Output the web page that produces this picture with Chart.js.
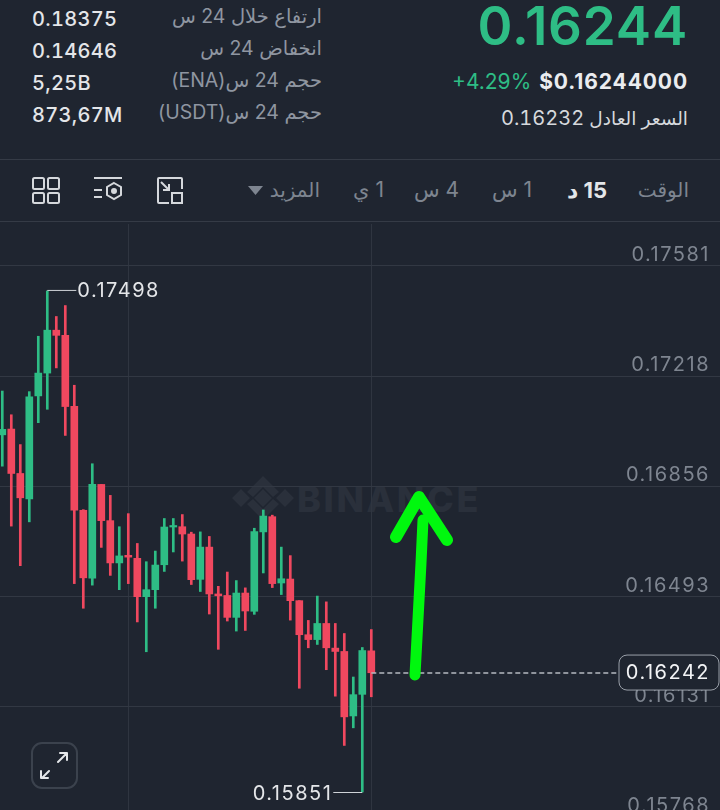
<!DOCTYPE html>
<html lang="ar">
<head>
<meta charset="utf-8">
<title>ENA/USDT</title>
<script src="https://cdn.jsdelivr.net/npm/chart.js@4"></script>
<style>
  html, body { margin: 0; padding: 0; background: #1f2530; }
  body { position: relative; width: 720px; height: 810px; overflow: hidden; font-family: Inter, "DejaVu Sans", sans-serif; }
  .t { position: absolute; white-space: nowrap; line-height: 1; }
  .val { left: 32px; font-size: 20px; font-weight: 500; color: #e4e6e9; font-variant-numeric: tabular-nums; letter-spacing: 0.300px; }
  .lab { right: 398px; font-size: 19.500px; color: #8f96a1; direction: rtl; }
  .tab { font-size: 21px; color: #7e8590; direction: rtl; top: 179px; }
  .num { direction: ltr; unicode-bidi: isolate; font-size: 20px; font-variant-numeric: tabular-nums; letter-spacing: 0.800px; }
  .rule { position: absolute; left: 0; width: 720px; height: 1px; background: #353b46; }
  #chart-box { position: absolute; left: 0; top: 222px; }
  svg { position: absolute; left: 0; top: 0; }
</style>
</head>
<body>

<!-- faint watermark sits under the chart canvas -->
<svg width="720" height="810" fill="#2a303b">
  <path d="M263 489l9 9-9 9-9-9z M241 489l9 9-9 9-9-9z M285 489l9 9-9 9-9-9z"/>
  <path d="M263 476l16 16-6 5-10-10-10 10-6-5z M263 520l16-16-6-5-10 10-10-10-6 5z"/>
</svg>
<span class="t" style="left:297px;top:481px;font-size:36px;font-weight:800;letter-spacing:2.600px;color:#2a303b;">BINANCE</span>

<span class="t val" style="top:9px;">0.18375</span>
<span class="t val" style="top:41px;">0.14646</span>
<span class="t val" style="top:73px;">5,25B</span>
<span class="t val" style="top:105px;">873,67M</span>
<span class="t lab" style="top:7px;">ارتفاع خلال 24 س</span>
<span class="t lab" style="top:39px;">انخفاض 24 س</span>
<span class="t lab" style="top:71px;">حجم 24 س(ENA)</span>
<span class="t lab" style="top:103px;">حجم 24 س(USDT)</span>

<span class="t" style="right:32px;top:0px;font-size:53px;font-weight:600;letter-spacing:0.800px;color:#2ebd85;">0.16244</span>
<span class="t" style="right:32px;top:71px;font-size:21px;font-weight:700;letter-spacing:0.900px;color:#eaecef;">$0.16244000</span>
<span class="t" style="left:452px;top:71px;font-size:21px;color:#2ebd85;">+4.29%</span>
<span class="t" style="right:32px;top:108px;font-size:18.500px;color:#d6d9dd;direction:rtl;">السعر العادل <span class="num">0.16232</span></span>

<div class="rule" style="top:159px;"></div>
<div class="rule" style="top:221px;"></div>

<span class="t tab" style="right:31px;font-size:20px;top:180px;">الوقت</span>
<span class="t tab" style="right:113px;color:#e4e6e9;font-weight:700;font-size:22px;">15 د</span>
<span class="t tab" style="right:188px;">1 س</span>
<span class="t tab" style="right:261px;">4 س</span>
<span class="t tab" style="right:336px;">1 ي</span>
<span class="t tab" style="right:400px;font-size:20px;top:180px;">المزيد</span>

<!-- toolbar icons -->
<svg width="720" height="222" fill="none" stroke="#d5d8dc" stroke-width="2">
  <path d="M248 186h15l-7.500 9z" fill="#7e8590" stroke="none"/>
  <rect x="33" y="178" width="11" height="11" rx="1.500"/>
  <rect x="48" y="178" width="11" height="11" rx="1.500"/>
  <rect x="33" y="193" width="11" height="10" rx="1.500"/>
  <rect x="48" y="193" width="11" height="10" rx="1.500"/>
  <path d="M94 178h28 M94 190h8 M94 197h8"/>
  <path d="M114 183l7 4v8l-7 4-7-4v-8z"/>
  <circle cx="114" cy="191" r="2" fill="#d5d8dc"/>
  <path d="M169 203h-10a1 1 0 0 1-1-1v-23a1 1 0 0 1 1-1h22a1 1 0 0 1 1 1v10"/>
  <rect x="172" y="193" width="10" height="10"/>
  <path d="M161 182l8 8 M169 184v6h-6"/>
</svg>

<div id="chart-box"><canvas id="chart" width="720" height="600"></canvas></div>

<!-- hand drawn arrow and fullscreen button on top of the chart -->
<svg width="720" height="810" fill="none" stroke-linecap="round" stroke-linejoin="round">
  <path d="M415 675Q418 620 421 563L423 520" stroke="#00f80e" stroke-width="11"/>
  <path d="M396 537L419 497L447 540" stroke="#00f80e" stroke-width="12"/>
  <rect x="32" y="743" width="45" height="45" rx="10" stroke="#3b424d" stroke-width="2"/>
  <path d="M58 762L66 754 M60 753h7v7 M49 771L42 778 M41 771v7h7" stroke="#e4e6e9" stroke-width="2"/>
</svg>

<script>
const candleOpen = [
  0.17025, 0.17044, 0.16898, 0.16814, 0.17153, 0.17228, 0.17369, 0.17352, 0.17119, 0.16777, 0.16554,
  0.16862, 0.16743, 0.16604, 0.16629, 0.16619, 0.16493, 0.16516, 0.16598, 0.16722, 0.16723, 0.16699,
  0.16550, 0.16656, 0.16502, 0.16497, 0.16425, 0.16505, 0.16445, 0.16706, 0.16756, 0.16538, 0.16551,
  0.16480, 0.16368, 0.16352, 0.16405, 0.16324, 0.16313, 0.16101, 0.16172, 0.16315
];
const candleHigh = [
  0.17169, 0.17091, 0.16993, 0.17167, 0.17349, 0.17498, 0.17414, 0.17450, 0.17188, 0.16779, 0.16930,
  0.16862, 0.16826, 0.16723, 0.16766, 0.16668, 0.16608, 0.16643, 0.16750, 0.16750, 0.16763, 0.16705,
  0.16706, 0.16691, 0.16527, 0.16574, 0.16546, 0.16522, 0.16718, 0.16778, 0.16761, 0.16656, 0.16628,
  0.16480, 0.16415, 0.16495, 0.16476, 0.16405, 0.16372, 0.16229, 0.16326, 0.16385
];
const candleLow = [
  0.16922, 0.16725, 0.16595, 0.16739, 0.17065, 0.17109, 0.17245, 0.17023, 0.16536, 0.16455, 0.16531,
  0.16655, 0.16563, 0.16516, 0.16536, 0.16410, 0.16312, 0.16455, 0.16576, 0.16640, 0.16610, 0.16533,
  0.16510, 0.16436, 0.16320, 0.16413, 0.16380, 0.16382, 0.16435, 0.16571, 0.16523, 0.16500, 0.16416,
  0.16192, 0.16325, 0.16336, 0.16253, 0.16166, 0.16004, 0.16062, 0.15851, 0.16164
];
const candleClose = [
  0.17043, 0.16898, 0.16818, 0.17150, 0.17228, 0.17369, 0.17352, 0.17118, 0.16777, 0.16555, 0.16862,
  0.16743, 0.16604, 0.16627, 0.16623, 0.16493, 0.16516, 0.16597, 0.16722, 0.16727, 0.16699, 0.16549,
  0.16656, 0.16502, 0.16496, 0.16425, 0.16505, 0.16446, 0.16707, 0.16758, 0.16536, 0.16552, 0.16480,
  0.16368, 0.16352, 0.16405, 0.16325, 0.16313, 0.16098, 0.16171, 0.16316, 0.16243
];
const priceTicks = [0.17581, 0.17218, 0.16856, 0.16493, 0.16131, 0.15768];
const timeLines = [14, 41]; // candle index of the two vertical grid lines
const lastPrice = 0.16242;

const GREEN = '#2ebd85';
const RED = '#f0485f';
const candleColors = candleOpen.map((o, i) => candleClose[i] >= o ? GREEN : RED);
const FONT = 'Inter, "DejaVu Sans", sans-serif';

// hi/lo callouts and the last price tag, placed from the scales
const calloutPlugin = {
  id: 'callouts',
  beforeDraw(chart) {
    chart.ctx.letterSpacing = '1.5px'; // digits on the axis run wider than Inter's
  },
  afterDraw(chart) {
    const { ctx, scales: { x, y } } = chart;
    ctx.save();
    ctx.font = '20px ' + FONT;
    ctx.textBaseline = 'middle';
    ctx.fillStyle = '#e4e6e9';
    ctx.strokeStyle = '#cfd3d8';
    ctx.lineWidth = 1;

    const hi = Math.max(...candleHigh);
    const hiX = x.getPixelForValue(candleHigh.indexOf(hi));
    const hiY = y.getPixelForValue(hi);
    ctx.beginPath();
    ctx.moveTo(hiX, hiY - 0.5);
    ctx.lineTo(hiX + 29, hiY - 0.5);
    ctx.stroke();
    ctx.textAlign = 'left';
    ctx.fillText(hi.toFixed(5), hiX + 30, hiY);

    const lo = Math.min(...candleLow);
    const loX = x.getPixelForValue(candleLow.indexOf(lo));
    const loY = y.getPixelForValue(lo);
    ctx.beginPath();
    ctx.moveTo(loX, loY + 0.5);
    ctx.lineTo(loX - 29, loY + 0.5);
    ctx.stroke();
    ctx.textAlign = 'right';
    ctx.fillText(lo.toFixed(5), loX - 30, loY + 2);

    const tagY = y.getPixelForValue(lastPrice);
    ctx.beginPath();
    ctx.roundRect(619, tagY - 18, 100, 35, 8);
    ctx.fillStyle = '#1f2530';
    ctx.fill();
    ctx.strokeStyle = '#9aa0a9';
    ctx.stroke();
    ctx.fillStyle = '#f2f3f5';
    ctx.textAlign = 'right';
    ctx.fillText(lastPrice.toFixed(5), 710, tagY);
    ctx.restore();
  }
};

new Chart(document.getElementById('chart'), {
  data: {
    datasets: [
      {
        type: 'line',
        data: [{ x: 41, y: lastPrice }, { x: 68.6, y: lastPrice }],
        borderColor: '#b5b9c0',
        borderWidth: 1.5,
        borderDash: [5, 3],
        pointRadius: 0,
        order: 0
      },
      {
        type: 'bar',
        data: candleOpen.map((o, i) => ({ x: i, y: [o, candleClose[i]] })),
        backgroundColor: candleColors,
        barThickness: 7,
        grouped: false,
        order: 1
      },
      {
        type: 'bar',
        data: candleOpen.map((o, i) => ({ x: i, y: [candleLow[i], candleHigh[i]] })),
        backgroundColor: candleColors,
        barThickness: 2,
        grouped: false,
        order: 2
      }
    ]
  },
  options: {
    responsive: false,
    animation: false,
    events: [],
    layout: { padding: 0 },
    plugins: { legend: { display: false }, tooltip: { enabled: false } },
    scales: {
      x: {
        type: 'linear',
        min: -0.255,
        max: 79.745,
        offset: false,
        afterBuildTicks: axis => { axis.ticks = timeLines.map(value => ({ value })); },
        ticks: { display: false },
        border: { display: false },
        grid: { color: '#2f3540', lineWidth: 1, drawTicks: false, offset: false }
      },
      y: {
        position: 'right',
        min: 0.15759,
        max: 0.17718,
        afterBuildTicks: axis => { axis.ticks = priceTicks.map(value => ({ value })); },
        ticks: {
          mirror: true,
          padding: -10,
          labelOffset: -11,
          color: '#7e8590',
          font: { family: FONT, size: 20 },
          callback: value => value.toFixed(5)
        },
        border: { display: false },
        grid: { color: '#323843', lineWidth: 1, drawTicks: false }
      }
    }
  },
  plugins: [calloutPlugin]
});
</script>
</body>
</html>
